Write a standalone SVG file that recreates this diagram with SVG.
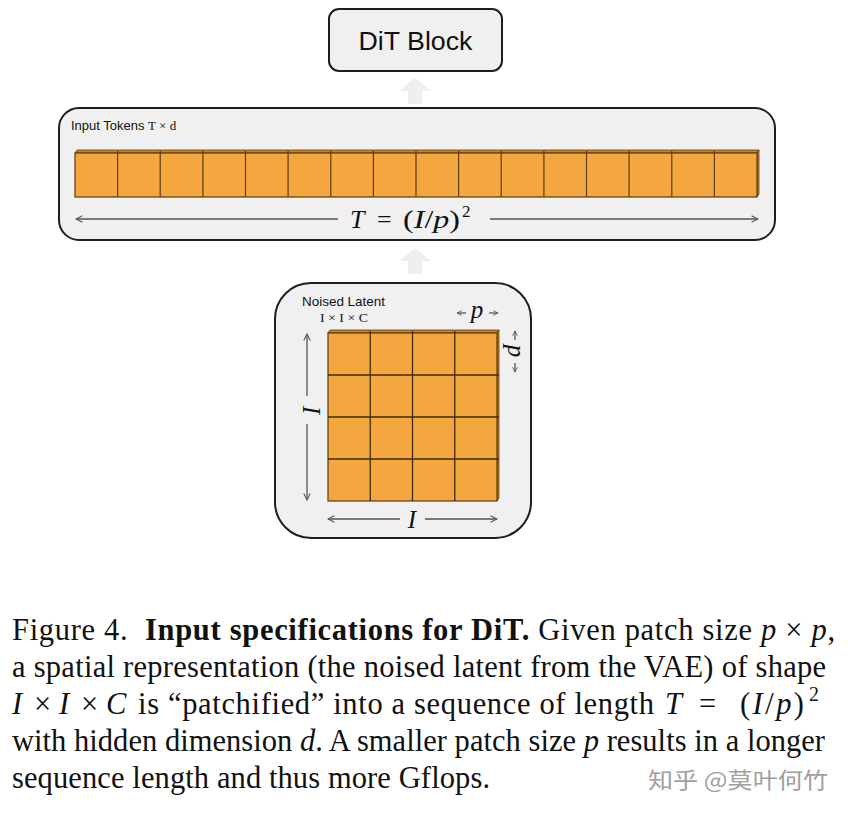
<svg xmlns="http://www.w3.org/2000/svg" width="848" height="818" viewBox="0 0 848 818">
<style>
.box{fill:#f0f0f0;stroke:#1e1e1e;stroke-width:2}
.tok{fill:#f4a63f;stroke:#5b3d12;stroke-width:1.2}
.side{fill:#c9822a;stroke:#5b3d12;stroke-width:0.8}
.dim{stroke:#555;stroke-width:1.3;fill:none}
.sans{font-family:"Liberation Sans",Arial,sans-serif;fill:#111}
.math{font-family:"Liberation Serif","Times New Roman",serif;font-style:italic;fill:#111}
.up{font-style:normal}
.cap{font-family:"Liberation Serif","Times New Roman",serif;font-size:30.5px;fill:#111}
.it{font-style:italic}
.sup{font-size:20px}
.uparrow{fill:#efefef}
</style>
<defs>
<marker id="ah" viewBox="0 0 10 10" refX="9" refY="5" markerWidth="8" markerHeight="8" orient="auto-start-reverse" markerUnits="userSpaceOnUse">
<path d="M1,1 L9,5 L1,9" fill="none" stroke="#555" stroke-width="1.3"/>
</marker>
<marker id="ahs" viewBox="0 0 10 10" refX="9" refY="5" markerWidth="6" markerHeight="6" orient="auto-start-reverse" markerUnits="userSpaceOnUse">
<path d="M1,1 L9,5 L1,9" fill="none" stroke="#555" stroke-width="1.4"/>
</marker>
</defs>
<rect width="848" height="818" fill="#fff"/>

<g id="connectors">
<polygon class="uparrow" points="415,78 431,91 422,91 422,104 408,104 408,91 399,91"/>
<polygon class="uparrow" points="415,248 431,261 422,261 422,274 408,274 408,261 399,261"/>
</g>

<g id="dit-block">
<rect class="box" x="329" y="9" width="173" height="62" rx="10"/>
<text class="sans" x="415.5" y="49.5" font-size="26" text-anchor="middle" textLength="114" lengthAdjust="spacingAndGlyphs">DiT Block</text>
</g>

<g id="input-tokens">
<rect class="box" x="59" y="108" width="716" height="132" rx="20"/>
<text class="sans" x="71" y="130" font-size="13">Input Tokens <tspan font-family="Liberation Serif,serif" font-size="13">T × d</tspan></text>
<polygon class="side" points="75,153 77,150 759,150 757,153"/>
<polygon class="side" points="757,153 759,150 759,194 757,197"/>
<rect class="tok" x="75" y="153" width="682" height="44"/>
<g stroke="#5b3d12" stroke-width="1.2">
<line x1="117.6" y1="151" x2="117.6" y2="197"/><line x1="160.2" y1="151" x2="160.2" y2="197"/>
<line x1="202.9" y1="151" x2="202.9" y2="197"/><line x1="245.5" y1="151" x2="245.5" y2="197"/>
<line x1="288.1" y1="151" x2="288.1" y2="197"/><line x1="330.8" y1="151" x2="330.8" y2="197"/>
<line x1="373.4" y1="151" x2="373.4" y2="197"/><line x1="416" y1="151" x2="416" y2="197"/>
<line x1="458.6" y1="151" x2="458.6" y2="197"/><line x1="501.2" y1="151" x2="501.2" y2="197"/>
<line x1="543.9" y1="151" x2="543.9" y2="197"/><line x1="586.5" y1="151" x2="586.5" y2="197"/>
<line x1="629.1" y1="151" x2="629.1" y2="197"/><line x1="671.8" y1="151" x2="671.8" y2="197"/>
<line x1="714.4" y1="151" x2="714.4" y2="197"/>
</g>
<line class="dim" x1="338" y1="219" x2="76" y2="219" marker-end="url(#ah)"/>
<line class="dim" x1="490" y1="219" x2="758" y2="219" marker-end="url(#ah)"/>
<text class="math" x="350" y="228" font-size="26">T</text>
<text class="math up" x="377" y="228" font-size="26">=</text>
<text class="math" x="403" y="228" font-size="26" textLength="57" lengthAdjust="spacingAndGlyphs"><tspan class="up">(</tspan>I<tspan class="up">/</tspan>p<tspan class="up">)</tspan></text>
<text class="math up" x="462" y="217" font-size="17">2</text>
</g>

<g id="noised-latent">
<rect class="box" x="275" y="283" width="256" height="255" rx="36"/>
<text class="sans" x="302" y="306" font-size="13" textLength="83" lengthAdjust="spacingAndGlyphs">Noised Latent</text>
<text x="320" y="322" font-family="Liberation Serif,serif" font-size="12.5" fill="#111" textLength="48" lengthAdjust="spacingAndGlyphs">I × I × C</text>
<polygon class="side" points="328,333 330,330 499,330 497,333"/>
<polygon class="side" points="497,333 499,330 499,498 497,501"/>
<rect class="tok" x="328" y="333" width="169" height="168"/>
<g stroke="#3e2a0c" stroke-width="1.3">
<line x1="370.25" y1="331" x2="370.25" y2="501"/><line x1="412.5" y1="331" x2="412.5" y2="501"/><line x1="454.75" y1="331" x2="454.75" y2="501"/>
<line x1="328" y1="375" x2="499" y2="375"/><line x1="328" y1="417" x2="499" y2="417"/><line x1="328" y1="459" x2="499" y2="459"/>
</g>
<line class="dim" x1="307" y1="396" x2="307" y2="334" marker-end="url(#ah)"/>
<line class="dim" x1="307" y1="424" x2="307" y2="500" marker-end="url(#ah)"/>
<text class="math" font-size="25" text-anchor="middle" transform="translate(303,410) rotate(90)">I</text>
<line class="dim" x1="400" y1="519" x2="328" y2="519" marker-end="url(#ah)"/>
<line class="dim" x1="425" y1="519" x2="497" y2="519" marker-end="url(#ah)"/>
<text class="math" x="412" y="528" font-size="25" text-anchor="middle">I</text>
<line class="dim" x1="466" y1="313" x2="457" y2="313" marker-end="url(#ahs)"/>
<line class="dim" x1="489" y1="313" x2="498" y2="313" marker-end="url(#ahs)"/>
<text class="math" x="477" y="318" font-size="25" text-anchor="middle">p</text>
<line class="dim" x1="515" y1="340" x2="515" y2="331" marker-end="url(#ahs)"/>
<line class="dim" x1="515" y1="363" x2="515" y2="372" marker-end="url(#ahs)"/>
<text class="math" font-size="25" text-anchor="middle" transform="translate(508,351) rotate(90)">p</text>
</g>

<g id="caption">
<text class="cap" x="12" y="640" textLength="823" lengthAdjust="spacing">Figure 4.&#160; <tspan font-weight="bold">Input specifications for DiT.</tspan> Given patch size <tspan class="it">p</tspan> × <tspan class="it">p</tspan>,</text>
<text class="cap" x="12" y="677" textLength="814" lengthAdjust="spacing">a spatial representation (the noised latent from the VAE) of shape</text>
<text class="cap" y="714"><tspan class="it" x="12">I</tspan><tspan x="34">×</tspan><tspan class="it" x="59">I</tspan><tspan x="81">×</tspan><tspan class="it" x="106">C</tspan></text>
<text class="cap" x="138" y="714" textLength="516" lengthAdjust="spacing">is “patchified” into a sequence of length</text>
<text class="cap" y="714"><tspan class="it" x="665">T</tspan><tspan x="699">=</tspan></text>
<text class="cap" x="740" y="714" textLength="64" lengthAdjust="spacing">(<tspan class="it">I</tspan>/<tspan class="it">p</tspan>)</text>
<text class="cap sup" x="809" y="701">2</text>
<text class="cap" x="12" y="751" textLength="813" lengthAdjust="spacing">with hidden dimension <tspan class="it">d</tspan>. A smaller patch size <tspan class="it">p</tspan> results in a longer</text>
<text class="cap" x="12" y="788" textLength="478" lengthAdjust="spacing">sequence length and thus more Gflops.</text>
<text x="648" y="788" font-family="'Noto Sans CJK SC',sans-serif" font-size="22" fill="#a0a0a0" textLength="180" lengthAdjust="spacingAndGlyphs">知乎 @莫叶何竹</text>
</g>
</svg>
